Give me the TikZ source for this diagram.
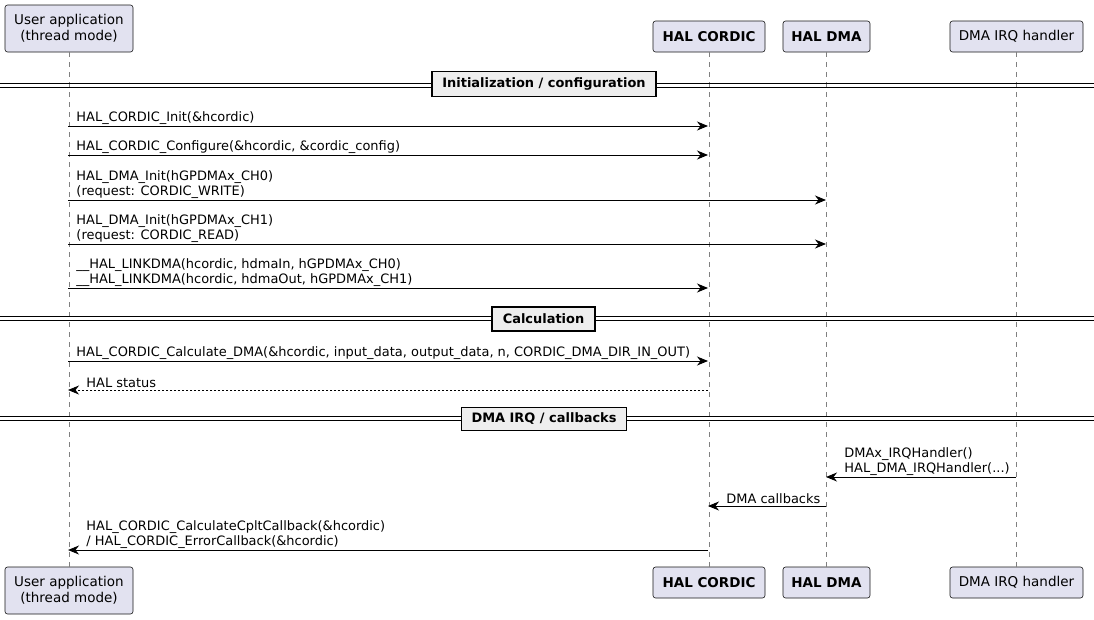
\documentclass[tikz,border=0pt]{standalone}
\usepackage{fontspec}
\setmainfont{DejaVu Sans}
\usetikzlibrary{arrows.meta}
\definecolor{partfill}{HTML}{E2E2F0}
\definecolor{partdraw}{HTML}{181818}
\definecolor{sepfill}{HTML}{EEEEEE}
\definecolor{lifegray}{HTML}{808080}
\tikzset{
  part/.style={draw=partdraw, line width=0.6pt, fill=partfill, rounded corners=2.5pt, inner sep=0pt, align=center, font=\fontsize{13.5}{16}\selectfont},
  boldpart/.style={part, font=\fontsize{13.5}{16}\selectfont\bfseries},
  lifeline/.style={draw=lifegray, line width=0.6pt, dash pattern=on 5pt off 5pt},
  msg/.style={draw=black, line width=0.9pt, -{Stealth[length=11pt,width=9pt,inset=3.5pt]}},
  ret/.style={msg, dash pattern=on 2pt off 2pt},
  lbl/.style={inner sep=0pt, align=left, font=\fontsize{12.95}{15}\selectfont},
  sepbox/.style={draw=black, line width=1.8pt, fill=sepfill, inner sep=0pt, font=\fontsize{12.95}{15}\selectfont\bfseries},
  sepline/.style={draw=black, line width=1pt}
}
\begin{document}
\begin{tikzpicture}[x=1pt,y=-1pt]
\useasboundingbox (0,0) rectangle (1094,619);
\fill[white] (0,0) rectangle (1094,619);
% participants top
\node[part, minimum width=128pt, minimum height=47pt] (uT) at (69,28.5) {User application\\(thread mode)};
\node[boldpart, minimum width=112pt, minimum height=31pt] (cT) at (709,36.5) {HAL CORDIC};
\node[boldpart, minimum width=87pt, minimum height=31pt] (dT) at (826.5,36.5) {HAL DMA};
\node[part, minimum width=133pt, minimum height=31pt] (iT) at (1016.5,36.5) {DMA IRQ handler};
% participants bottom
\node[part, minimum width=128pt, minimum height=47pt] (uB) at (69,590.5) {User application\\(thread mode)};
\node[boldpart, minimum width=112pt, minimum height=31pt] (cB) at (709,582.5) {HAL CORDIC};
\node[boldpart, minimum width=87pt, minimum height=31pt] (dB) at (826.5,582.5) {HAL DMA};
\node[part, minimum width=133pt, minimum height=31pt] (iB) at (1016.5,582.5) {DMA IRQ handler};
% lifelines
\draw[lifeline] (uT.south) -- (uB.north);
\draw[lifeline] (cT.south) -- (cB.north);
\draw[lifeline] (dT.south) -- (dB.north);
\draw[lifeline] (iT.south) -- (iB.north);
% separators
\coordinate (s1L) at (0,83); \coordinate (s1R) at (1094,83);
\coordinate (s1l) at (0,87); \coordinate (s1r) at (1094,87);
\draw[sepline] (s1L) -- (s1R); \draw[sepline] (s1l) -- (s1r);
\node[sepbox, minimum width=224pt, minimum height=25pt] (sep1) at (544,84) {Initialization / configuration};
\coordinate (s2L) at (0,316.5); \coordinate (s2R) at (1094,316.5);
\coordinate (s2l) at (0,320.5); \coordinate (s2r) at (1094,320.5);
\draw[sepline] (s2L) -- (s2R); \draw[sepline] (s2l) -- (s2r);
\node[sepbox, minimum width=103pt, minimum height=24pt] (sep2) at (543.5,319) {Calculation};
\coordinate (s3L) at (0,416); \coordinate (s3R) at (1094,416);
\coordinate (s3l) at (0,420); \coordinate (s3r) at (1094,420);
\draw[sepline] (s3L) -- (s3R); \draw[sepline] (s3l) -- (s3r);
\node[sepbox, minimum width=165pt, minimum height=23pt] (sep3) at (544,419) {DMA IRQ / callbacks};
% message end points
\coordinate (m1a) at (68,126);  \coordinate (m1b) at (708,126);
\coordinate (m2a) at (68,155);  \coordinate (m2b) at (708,155);
\coordinate (m3a) at (68,200);  \coordinate (m3b) at (826,200);
\coordinate (m4a) at (68,244);  \coordinate (m4b) at (826,244);
\coordinate (m5a) at (68,288);  \coordinate (m5b) at (708,288);
\coordinate (m6a) at (68,361);  \coordinate (m6b) at (708,361);
\coordinate (m7a) at (708,390); \coordinate (m7b) at (68,390);
\coordinate (m8a) at (1016,477); \coordinate (m8b) at (826,477);
\coordinate (m9a) at (826,506); \coordinate (m9b) at (708,506);
\coordinate (m10a) at (708,550); \coordinate (m10b) at (68,550);
% messages
\draw[msg] (m1a) -- (m1b) node[lbl, pos=0, anchor=south west, xshift=8pt, yshift=1.5pt] (t1) {HAL\_CORDIC\_Init(\&hcordic)};
\draw[msg] (m2a) -- (m2b) node[lbl, pos=0, anchor=south west, xshift=8pt, yshift=1.5pt] (t2) {HAL\_CORDIC\_Configure(\&hcordic, \&cordic\_config)};
\draw[msg] (m3a) -- (m3b) node[lbl, pos=0, anchor=south west, xshift=8pt, yshift=1.5pt] (t3) {HAL\_DMA\_Init(hGPDMAx\_CH0)\\(request: CORDIC\_WRITE)};
\draw[msg] (m4a) -- (m4b) node[lbl, pos=0, anchor=south west, xshift=8pt, yshift=1.5pt] (t4) {HAL\_DMA\_Init(hGPDMAx\_CH1)\\(request: CORDIC\_READ)};
\draw[msg] (m5a) -- (m5b) node[lbl, pos=0, anchor=south west, xshift=8pt, yshift=1.5pt] (t5) {\_\_HAL\_LINKDMA(hcordic, hdmaIn, hGPDMAx\_CH0)\\\_\_HAL\_LINKDMA(hcordic, hdmaOut, hGPDMAx\_CH1)};
\draw[msg] (m6a) -- (m6b) node[lbl, pos=0, anchor=south west, xshift=8pt, yshift=1.5pt] (t6) {HAL\_CORDIC\_Calculate\_DMA(\&hcordic, input\_data, output\_data, n, CORDIC\_DMA\_DIR\_IN\_OUT)};
\draw[ret] (m7a) -- (m7b) node[lbl, pos=1, anchor=south west, xshift=18pt, yshift=1.5pt] (t7) {HAL status};
\draw[msg] (m8a) -- (m8b) node[lbl, pos=1, anchor=south west, xshift=18pt, yshift=1.5pt] (t8) {DMAx\_IRQHandler()\\HAL\_DMA\_IRQHandler(...)};
\draw[msg] (m9a) -- (m9b) node[lbl, pos=1, anchor=south west, xshift=18pt, yshift=1.5pt] (t9) {DMA callbacks};
\draw[msg] (m10a) -- (m10b) node[lbl, pos=1, anchor=south west, xshift=18pt, yshift=1.5pt] (t10) {HAL\_CORDIC\_CalculateCpltCallback(\&hcordic)\\/ HAL\_CORDIC\_ErrorCallback(\&hcordic)};
\end{tikzpicture}
\end{document}
